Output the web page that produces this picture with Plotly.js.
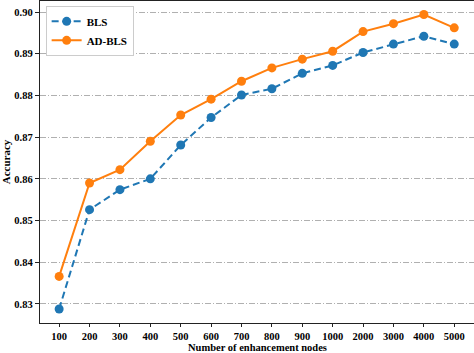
<!DOCTYPE html>
<html>
<head>
<meta charset="utf-8">
<script src="https://cdn.plot.ly/plotly-3.0.1.min.js"></script>
<style>html,body{margin:0;padding:0;background:#fff}#chart{width:474px;height:353px}</style>
</head>
<body>
<div id="chart"></div>
<script>
const categories = ["100","200","300","400","500","600","700","800","900","1000","2000","3000","4000","5000"];
const blsValues = [0.8288,0.8526,0.8574,0.8600,0.8681,0.8747,0.8801,0.8816,0.8853,0.8872,0.8903,0.8923,0.8942,0.8923];
const adBlsValues = [0.8366,0.8590,0.8622,0.8690,0.8753,0.8791,0.8834,0.8866,0.8887,0.8906,0.8953,0.8972,0.8994,0.8962];
const yTicks = [0.83,0.84,0.85,0.86,0.87,0.88,0.89,0.90];
const yTickText = ["0.83","0.84","0.85","0.86","0.87","0.88","0.89","0.90"];
const xTitle = "Number of enhancement nodes";

const font = {family: "Liberation Serif, Times New Roman, serif", size: 11, color: "#000", weight: "bold"};
const tickFont = {family: "Liberation Serif, Times New Roman, serif", size: 10.5, color: "#000", weight: "bold"};

const traces = [
  {x: categories, y: blsValues, name: "BLS", type: "scatter", mode: "lines+markers",
   line: {color: "#1f77b4", width: 2, dash: "7px,4px"}, marker: {color: "#1f77b4", size: 9}},
  {x: categories, y: adBlsValues, name: "AD-BLS", type: "scatter", mode: "lines+markers",
   line: {color: "#ff7f0e", width: 2}, marker: {color: "#ff7f0e", size: 9}}
];

const layout = {
  width: 474, height: 353,
  margin: {l: 40, r: 0, t: 1, b: 30},
  paper_bgcolor: "#fff", plot_bgcolor: "#fff",
  font: font,
  showlegend: true,
  legend: {x: 0.013, y: 0.985, xanchor: "left", yanchor: "top", bgcolor: "#fff",
           bordercolor: "#cccccc", borderwidth: 1, font: font, tracegroupgap: 0, itemwidth: 30},
  xaxis: {type: "category", range: [-0.63, 13.65], showgrid: false, zeroline: false, automargin: false,
          showline: true, linecolor: "#222", linewidth: 1.2, mirror: true,
          ticks: "outside", ticklen: 3, tickcolor: "#222", tickfont: tickFont},
  yaxis: {range: [0.82543, 0.90264], tickvals: yTicks, ticktext: yTickText, automargin: false,
          showgrid: true, gridcolor: "#b0b0b0", gridwidth: 1, griddash: "6px,2px,1px,2px",
          zeroline: false, showline: true, linecolor: "#222", linewidth: 1.2,
          ticks: "outside", ticklen: 4, tickcolor: "#222", tickfont: tickFont,
          title: {text: "Accuracy", font: font, standoff: 4}},
  annotations: [{text: xTitle, xref: "paper", yref: "paper", x: 0.5, y: 0, xanchor: "center",
                 yanchor: "top", yshift: -17, showarrow: false, font: tickFont}]
};

Plotly.newPlot("chart", traces, layout, {displayModeBar: false, staticPlot: true});
</script>
</body>
</html>
